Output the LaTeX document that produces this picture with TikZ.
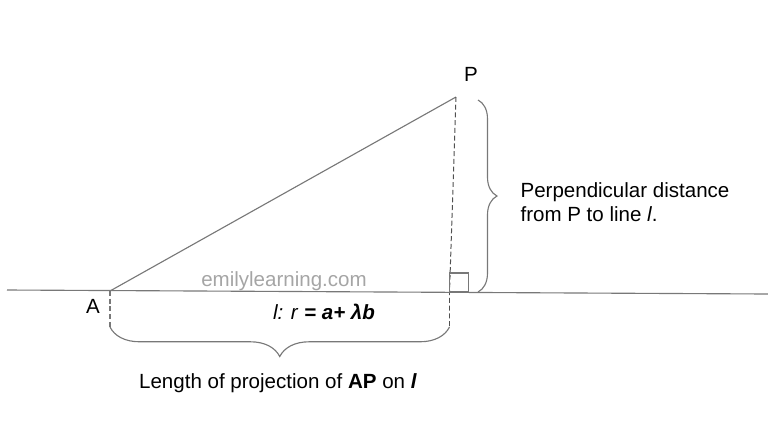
\documentclass[tikz,border=0pt]{standalone}
\usepackage{fontspec}
\setmainfont{Liberation Sans}
\usetikzlibrary{decorations.pathreplacing}

\definecolor{linegray}{RGB}{120,120,120}
\definecolor{dashgray}{RGB}{80,80,80}
\definecolor{markgray}{RGB}{165,165,165}

\begin{document}
\begin{tikzpicture}[x=0.025cm,y=-0.025cm,line width=0.8pt,
    every node/.style={font=\fontsize{14.6}{17}\selectfont,inner sep=0pt},
    curlybrace/.style={draw=linegray,decorate,decoration={brace,amplitude=#1}}]
    \useasboundingbox (0,0) rectangle (768,430);
    % points
    \coordinate (L1) at (7,290);
    \coordinate (L2) at (768,294);
    \coordinate (A) at (110,291);
    \coordinate (P) at (456,97);
    \coordinate (F) at (449.5,292);
    \coordinate (Ab) at (110,327);
    \coordinate (Fb) at (449.5,327);
    \coordinate (Bt) at (478,100);
    \coordinate (Bb) at (478,292);
    % line l and triangle
    \draw[linegray] (L1) -- (L2);
    \draw[linegray] (A) -- (P);
    \draw[dashgray,dash pattern=on 3.5pt off 2pt,line width=0.7pt] (P) -- (F) -- (Fb);
    \draw[linegray,dash pattern=on 3.5pt off 2pt] (A) -- (Ab);
    \draw[linegray] (F) rectangle ++(19,-19);
    % braces
    \draw[curlybrace=13.5pt] (Bt) -- (Bb);
    \draw[curlybrace=21pt] (Fb) -- (Ab);
    % labels
    \node[anchor=base] (labA) at (93,313) {A};
    \node[anchor=base] (labP) at (471,81) {P};
    \node[anchor=base,text=markgray] (mark) at (284,286) {emilylearning.com};
    \node[anchor=base] (eqn) at (324,319) {\textit{l: r} \textbf{\textit{= a+ λb}}};
    \node[anchor=west,align=left] (perp) at (520,202)
      {Perpendicular distance\\from P to line \textit{l}.};
    \node[anchor=base] (proj) at (278,388)
      {Length of projection of \textbf{AP} on \textbf{\textit{l}}};
\end{tikzpicture}
\end{document}
